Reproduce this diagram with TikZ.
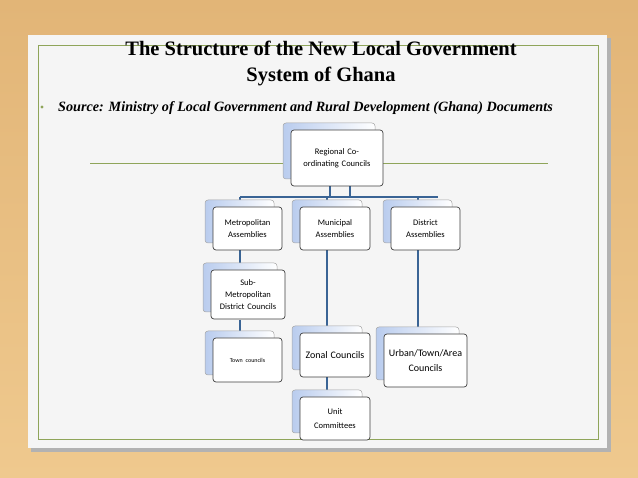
\documentclass[tikz,border=0pt]{standalone}
\usepackage{fontspec}
\setmainfont{Liberation Serif}
\newfontfamily\boxfont{Carlito}
\definecolor{wood}{HTML}{E2B577}
\definecolor{wood2}{HTML}{EFC98E}
\definecolor{olive}{HTML}{8FA55A}
\definecolor{lineblue}{HTML}{3A6495}
\definecolor{boxblue}{HTML}{B9CCEE}
\begin{document}
\begin{tikzpicture}[x=1pt,y=-1pt,
  front/.style={draw=black!75,fill=white,rounded corners=3pt,line width=0.7pt,align=center,font=\boxfont\fontsize{8.5}{12}\selectfont,inner sep=1pt},
  back/.style={draw=black!35,left color=boxblue,right color=white,rounded corners=3pt,line width=0.5pt},
  conn/.style={draw=lineblue,line width=1.3pt}]
\useasboundingbox (0,0) rectangle (638,478);
\fill[top color=wood,bottom color=wood2] (0,0) rectangle (638,478);
\fill[black!30] (31,38) rectangle (611,452);
\fill[gray!8] (28,35) rectangle (607,448);
\draw[olive,line width=0.9pt] (38,45) rectangle (598,439);
\node[anchor=base] (t1) at (321,56) {\fontsize{20.5}{24}\selectfont\bfseries The Structure of the New Local Government};
\node[anchor=base] (t2) at (321,82) {\fontsize{20.5}{24}\selectfont\bfseries System of Ghana};
\node[anchor=base west,inner sep=0pt] (src) at (58,112) {\fontsize{14.2}{16}\selectfont\bfseries\itshape Source: Ministry of Local Government and Rural Development (Ghana) Documents};
\fill[olive] (42,107) circle (1.7);
\draw[olive,line width=0.8pt] (90,163) -- (548,163);
\newcommand\mybox[6]{%
  \draw[back] (#2-8,#3-7) rectangle (#4-8,#5-7);
  \node[front,minimum width=#4-#2,minimum height=#5-#3,text width=#4-#2-6] (#1) at ({(#2+#4)/2},{(#3+#5)/2}) {#6};}
\draw[conn] (330,178) -- (330,197) (350,186) -- (350,197);
\draw[conn] (240,197) -- (438,197);
\draw[conn] (240,197) -- (240,207) (327,197) -- (327,207) (418,197) -- (418,207);
\draw[conn] (240,250) -- (240,270) (240,320) -- (240,338);
\draw[conn] (327,250) -- (327,333) (327,377) -- (327,397);
\draw[conn] (418,250) -- (418,334);
\mybox{reg}{291}{130}{383}{186}{Regional Co-\\ordinating Councils}
\mybox{met}{213}{207}{282}{250}{Metropolitan\\Assemblies}
\mybox{mun}{300}{207}{370}{250}{Municipal\\Assemblies}
\mybox{dis}{391}{207}{460}{250}{District\\Assemblies}
\mybox{sub}{211}{270}{285}{319}{Sub-\\Metropolitan\\District Councils}
\mybox{town}{213}{338}{282}{382}{\fontsize{6}{8}\selectfont Town councils}
\mybox{zon}{300}{333}{370}{377}{\fontsize{10}{12}\selectfont Zonal Councils}
\mybox{unit}{300}{397}{370}{440}{Unit\\[2pt]Committees}
\mybox{urb}{384}{334}{467}{387}{\fontsize{10}{12}\selectfont Urban/Town/Area\\[3pt]Councils}
\end{tikzpicture}
\end{document}
